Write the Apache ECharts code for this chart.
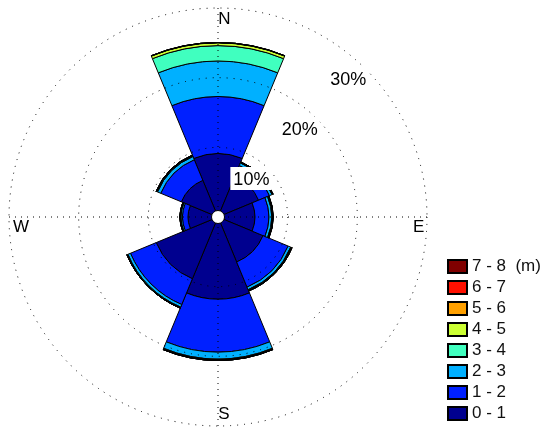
<!DOCTYPE html>
<html>
<head>
<meta charset="utf-8">
<script src="https://cdn.jsdelivr.net/npm/echarts@6/dist/echarts.min.js"></script>
<style>
  html, body { margin: 0; padding: 0; background: #fff; }
</style>
</head>
<body>
<div id="chart" style="width:550px;height:440px;"></div>
<script>
// wind directions, clockwise from north
var directions = ["N", "NE", "E", "SE", "S", "SW", "W", "NW"];
var speedBins = ["0 - 1", "1 - 2", "2 - 3", "3 - 4", "4 - 5", "5 - 6", "6 - 7", "7 - 8"];
var compassLabels = ["N", "E", "S", "W"];

// frequency (%) of each speed bin per direction
var freq0to1 = [9.1, 6.3, 5.3, 7.0, 11.8, 9.6, 4.3, 5.7];
var freq1to2 = [8.2, 1.7, 2.0, 3.9, 7.6, 4.0, 0.8, 3.2];
var freq2to3 = [5.1, 0.4, 0.4, 0.4, 1.0, 0.4, 0.2, 0.5];
var freq3to4 = [2.2, 0.1, 0.1, 0.1, 0.1, 0.1, 0.1, 0.1];
var freq4to5 = [0.4, 0.05, 0.05, 0.05, 0.05, 0.05, 0.05, 0.1];
var freq5to6 = [0.05, 0, 0.03, 0.05, 0.05, 0, 0, 0];
var freq6to7 = [0, 0, 0.03, 0, 0, 0, 0, 0];
var freq7to8 = [0, 0, 0, 0, 0, 0, 0, 0];

var binValues = [freq0to1, freq1to2, freq2to3, freq3to4, freq4to5, freq5to6, freq6to7, freq7to8];
var binColors = ["#00008f", "#0020ff", "#00b0ff", "#40ffbf", "#ccff33", "#ffa000", "#ff1000", "#800000"];

var chart = echarts.init(document.getElementById("chart"));

var series = speedBins.map(function (name, i) {
  return {
    name: name,
    type: "bar",
    coordinateSystem: "polar",
    polarIndex: 0,
    stack: "wind",
    barCategoryGap: "0%",
    data: binValues[i],
    itemStyle: {
      color: binColors[i],
      borderColor: "#000",
      borderWidth: 1
    },
    z: 2
  };
});

// white hole in the middle
series.push({
  name: "hole",
  type: "scatter",
  coordinateSystem: "polar",
  polarIndex: 0,
  data: [[0, "N"]],
  symbolSize: 13,
  itemStyle: { color: "#fff", borderColor: "#000", borderWidth: 1, opacity: 1 },
  z: 6
});

var richCompass = {
  n: { fontSize: 17, color: "#000", padding: [0, 0, 0, 13], backgroundColor: "#fff" },
  e: { fontSize: 17, color: "#000", padding: [21, 0, 0, 6] },
  s: { fontSize: 17, color: "#000", padding: [0, 0, 0, 12] },
  w: { fontSize: 17, color: "#000", padding: [21, 0, 0, 0] }
};

var option = {
  animation: false,
  textStyle: { fontFamily: "Liberation Sans, Arial, sans-serif" },
  polar: [
    { center: [218, 217], radius: 209 },
    { center: [218, 217], radius: 209 },
    { center: [223, 217], radius: 209 }
  ],
  angleAxis: [
    {
      polarIndex: 0,
      type: "category",
      data: directions,
      startAngle: 112.5,
      clockwise: true,
      boundaryGap: true,
      show: false
    },
    {
      polarIndex: 1,
      type: "value",
      min: 0,
      max: 360,
      interval: 90,
      startAngle: 90,
      clockwise: true,
      z: 5,
      axisLine: { show: false },
      axisTick: { show: false },
      splitLine: { show: true, lineStyle: { color: "#000", width: 1, type: [1, 5] } },
      axisLabel: {
        margin: -20,
        fontSize: 17,
        color: "#000",
        formatter: function (v) {
          var i = Math.round(v / 90) % 4;
          return "{" + compassLabels[i].toLowerCase() + "|" + compassLabels[i] + "}";
        },
        rich: richCompass
      }
    },
    {
      polarIndex: 2,
      type: "value",
      min: 0,
      max: 360,
      startAngle: 46,
      show: false
    }
  ],
  radiusAxis: [
    {
      polarIndex: 0,
      min: 0,
      max: 30,
      interval: 10,
      z: 5,
      axisLine: { show: false },
      axisTick: { show: false },
      axisLabel: { show: false },
      splitLine: { show: true, lineStyle: { color: "#000", width: 1, type: [1, 6] } }
    },
    {
      polarIndex: 1,
      min: 0,
      max: 30,
      show: false
    },
    {
      polarIndex: 2,
      min: 0,
      max: 30,
      interval: 10,
      z: 8,
      axisLine: { show: false },
      axisTick: { show: false },
      splitLine: { show: false },
      axisLabel: {
        showMinLabel: false,
        formatter: "{value}%",
        align: "right",
        verticalAlign: "top",
        margin: 0,
        fontSize: 18,
        color: "#000",
        backgroundColor: "#fff",
        padding: [4, 2, 1, 3]
      }
    }
  ],
  legend: {
    orient: "vertical",
    left: 447,
    top: 258,
    padding: 0,
    itemWidth: 19,
    itemHeight: 13,
    itemGap: 4,
    icon: "rect",
    data: speedBins.slice().reverse(),
    formatter: function (name) {
      return name === "7 - 8" ? name + "  (m)" : name;
    },
    textStyle: { fontSize: 17, color: "#111" }
  },
  series: series
};

chart.setOption(option);
window.addEventListener("resize", function () {
  chart.resize();
});
</script>
</body>
</html>
